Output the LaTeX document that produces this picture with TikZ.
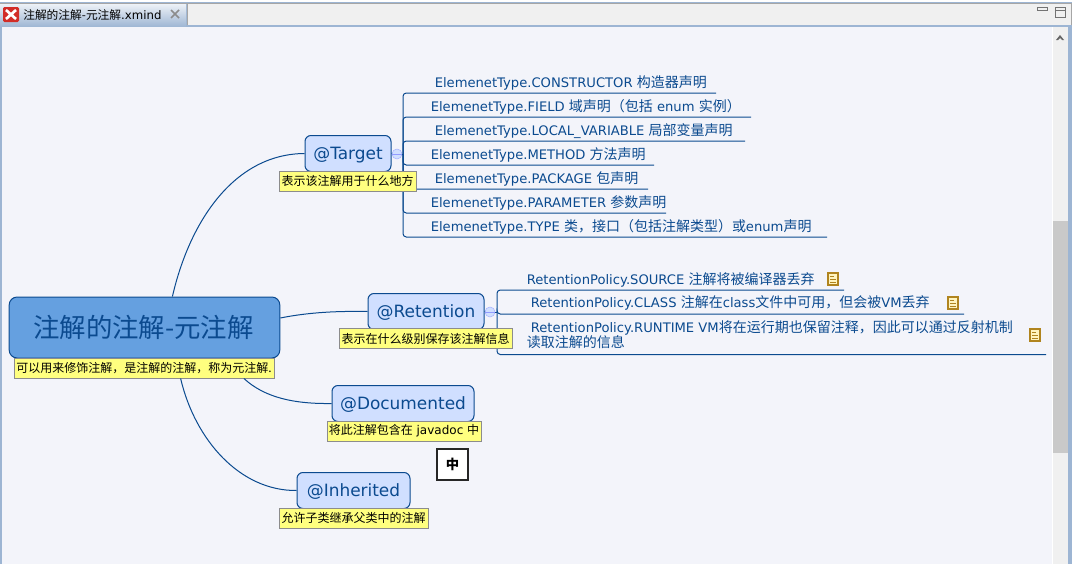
\documentclass[tikz,border=0pt]{standalone}
\usepackage{fontspec}
\usepackage{color}
\setmainfont{DejaVu Sans}
\newfontfamily\cjk{Noto Sans CJK SC}
\newcommand{\zh}[1]{{\cjk #1}}
\newcommand{\zhl}[1]{{\fontsize{10.5}{11.25}\selectfont\cjk #1}}
\definecolor{linkblue}{RGB}{11,74,143}
\definecolor{rootblue}{RGB}{101,160,224}
\definecolor{topicblue}{RGB}{208,223,255}
\definecolor{notegold}{RGB}{176,132,30}
\definecolor{notepaper}{RGB}{255,244,190}
\definecolor{paneblue}{RGB}{157,181,211}
\definecolor{panebg}{RGB}{243,244,250}
\definecolor{noteyellow}{RGB}{255,255,127}
\definecolor{tabred}{RGB}{210,45,40}
\tikzset{
  branch/.style={draw=linkblue,line width=0.75pt,rounded corners=2.5pt},
  curvelink/.style={draw=linkblue,line width=0.75pt},
  rootbox/.style={draw=linkblue,fill=rootblue,rounded corners=6pt,line width=0.75pt,inner sep=0pt,minimum width=203pt,minimum height=45.75pt,text=linkblue,font=\fontsize{19.8}{22}\selectfont\cjk},
  topicbox/.style={draw=linkblue,fill=topicblue,rounded corners=4.5pt,line width=0.75pt,inner sep=0pt,minimum height=27pt,text height=11.5pt,text depth=2.7pt,text=linkblue,font=\fontsize{12.7}{15}\selectfont},
  notebox/.style={draw=black!45,fill=noteyellow,line width=0.75pt,inner sep=0pt,minimum height=15pt,font=\fontsize{9}{11}\selectfont},
  leaftext/.style={anchor=west,inner sep=0pt,text=linkblue,font=\fontsize{9.85}{11.25}\selectfont},
  foldmark/.style={circle,draw=topicblue!80!blue,fill=topicblue,inner sep=0pt,minimum size=7.5pt},
  noteicon/.pic={
    \draw[notegold,fill=notepaper,line width=0.9pt] (-5,-6) rectangle (5,6);
    \draw[notegold,line width=0.75pt] (-3,-3) -- (3,-3) (-3,0) -- (3,0) (-3,3) -- (1,3);
  }
}

\begin{document}
\begin{tikzpicture}[x=0.75pt,y=0.75pt,yscale=-1,xscale=1]
\useasboundingbox (0,0) rectangle (1072,564);

%Shape: Pane
\fill [paneblue] (0,0) rectangle (1072,564);
\fill [white] (0,0) rectangle (1072,2);
\shade [top color=white!85!paneblue,bottom color=paneblue] (0,3) rectangle (186,27);
\fill [black!6] (187,3) rectangle (1071,25);
\draw [black!35,line width=0.75pt] (0,3) -- (1071,3) -- (1071,25);
\draw [black!35,line width=0.75pt] (187,3) -- (187,25);
\fill [paneblue] (187,25) rectangle (1072,27);
\fill [panebg] (2,27) rectangle (1052,564);
\fill [white] (1052,27) rectangle (1053,564);
\fill [black!6] (1053,27) rectangle (1068,564);
\fill [black!21] (1053,221) rectangle (1068,453);
\fill [black!60] (1060,35) -- (1056,40) -- (1058,40) -- (1060,38) -- (1062,40) -- (1064,40) -- cycle;

%Shape: Tab icons
\fill [tabred,rounded corners=1pt] (3,7) rectangle (19,22);
\draw [white,line width=2pt] (6,10) -- (16,19) (6,19) -- (16,10);
\draw [black!45,line width=1.2pt] (171,10) -- (179,18) (171,18) -- (179,10);
\draw [black!55,line width=0.75pt] (1037,7) rectangle (1047,10);
\draw [black!55,line width=0.75pt] (1055,7) rectangle (1065,17);
\draw [black!55,line width=0.75pt] (1055,10) -- (1065,10);

% Text Node
\draw (23,15) node (tabtitle) [anchor=west,inner sep=0pt,font=\fontsize{8.8}{11}\selectfont] {\zh{注解的注解-元注解}.xmind};

% Text Node
\draw (144.5,327.5) node (root) [rootbox] {\hspace*{-1.5pt}注解的注解-元注解};
% Text Node
\draw (348,153.5) node (target) [topicbox,minimum width=64.5pt] {@Target};
% Text Node
\draw (426,311.5) node (retention) [topicbox,minimum width=87pt] {@Retention};
% Text Node
\draw (403,403.5) node (documented) [topicbox,minimum width=106.5pt] {@Documented};
% Text Node
\draw (353.5,490.5) node (inherited) [topicbox,minimum width=84.75pt] {@Inherited};

%Shape: Circle
\draw (397,154) node (targetfold) [foldmark] {};
\draw (490,312) node (retentionfold) [foldmark] {};
\draw [topicblue!70!blue,line width=0.75pt] (targetfold.west) -- (targetfold.east);
\draw [topicblue!70!blue,line width=0.75pt] (retentionfold.west) -- (retentionfold.east);

% Text Node
\draw (434.5,83) node (constructor) [leaftext] {ElemenetType.CONSTRUCTOR \zhl{构造器声明}};
% Text Node
\draw (430.5,107) node (field) [leaftext] {ElemenetType.FIELD \zhl{域声明（包括} enum \zhl{实例）}};
% Text Node
\draw (434.5,131.5) node (localvariable) [leaftext] {ElemenetType.LOCAL\_VARIABLE \zhl{局部变量声明}};
% Text Node
\draw (430.5,155) node (method) [leaftext] {ElemenetType.METHOD \zhl{方法声明}};
% Text Node
\draw (434.5,179) node (package) [leaftext] {ElemenetType.PACKAGE \zhl{包声明}};
% Text Node
\draw (430.5,203) node (parameter) [leaftext] {ElemenetType.PARAMETER \zhl{参数声明}};
% Text Node
\draw (430.5,227) node (type) [leaftext] {ElemenetType.TYPE \zhl{类，接口（包括注解类型）或}enum\zhl{声明}};
% Text Node
\draw (526.5,280) node (source) [leaftext] {RetentionPolicy.SOURCE \zhl{注解将被编译器丢弃}};
% Text Node
\draw (530.5,303) node (class) [leaftext] {RetentionPolicy.CLASS \zhl{注解在}class\zhl{文件中可用，但会被}VM\zhl{丢弃}};
% Text Node
\draw (526.5,334.5) node (runtime) [leaftext,align=left] {\hspace*{3pt}RetentionPolicy.RUNTIME VM\zhl{将在运行期也保留注释，因此可以通过反射机制}\\\zhl{读取注解的信息}};

%Straight Lines
\coordinate (targetroot) at (403,154);
\coordinate (constructorend) at (716,93);
\coordinate (fieldend) at (751,117);
\coordinate (localvariableend) at (745,141);
\coordinate (methodend) at (654,165);
\coordinate (packageend) at (648,189);
\coordinate (parameterend) at (666,213);
\coordinate (typeend) at (827,237);
\coordinate (retentionroot) at (497,312);
\coordinate (sourceend) at (844,290);
\coordinate (classend) at (964,314);
\coordinate (runtimeend) at (1046,354.5);

\draw [branch] (target.east) -- (targetfold.west);
\draw [branch] (targetfold.east) -- (targetroot);
\draw [branch] (targetroot) |- (constructorend);
\draw [branch] (targetroot) |- (fieldend);
\draw [branch] (targetroot) |- (localvariableend);
\draw [branch] (targetroot) |- (methodend);
\draw [branch] (targetroot) |- (packageend);
\draw [branch] (targetroot) |- (parameterend);
\draw [branch] (targetroot) |- (typeend);

\draw [branch] (retention.east) -- (retentionfold.west);
\draw [branch] (retentionfold.east) -- (retentionroot);
\draw [branch] (retentionroot) |- (sourceend);
\draw [branch] (retentionroot) |- (classend);
\draw [branch] (retentionroot) |- (runtimeend);

% Text Node
\draw (144,368) node (rootnote) [notebox,minimum width=195pt] {\zh{可以用来修饰注解，是注解的注解，称为元注解.}};
% Text Node
\draw (347.5,181) node (targetnote) [notebox,minimum width=102.75pt] {\zh{表示该注解用于什么地方}};
% Text Node
\draw (425.5,338.5) node (retentionnote) [notebox,minimum width=129.75pt] {\zh{表示在什么级别保存该注解信息}};
% Text Node
\draw (404,431) node (documentednote) [notebox,minimum width=115.5pt] {\zh{将此注解包含在} javadoc \zh{中}};
% Text Node
\draw (353.5,518) node (inheritednote) [notebox,minimum width=111.75pt] {\zh{允许子类继承父类中的注解}};

%Curve Lines
\draw [curvelink] (root.48) .. controls (190,220) and (235,154) .. (target.west);
\draw [curvelink] (root.4) .. controls (310,312) and (340,311) .. (retention.west);
\draw [curvelink] (rootnote.-6) .. controls (265,398) and (295,404) .. (documented.west);
\draw [curvelink] (rootnote.-16) .. controls (195,440) and (240,491) .. (inherited.west);

%Shape: Note icons
\pic at (833,279) {noteicon};
\pic at (953,303) {noteicon};
\pic at (1035,335) {noteicon};

% Text Node
\draw (452.5,464.5) node (imebox) [draw=black!85,fill=white,line width=1.5pt,inner sep=0pt,minimum size=23pt,font=\fontsize{10}{12}\selectfont\cjk\bfseries] {中};

\end{tikzpicture}
\end{document}
